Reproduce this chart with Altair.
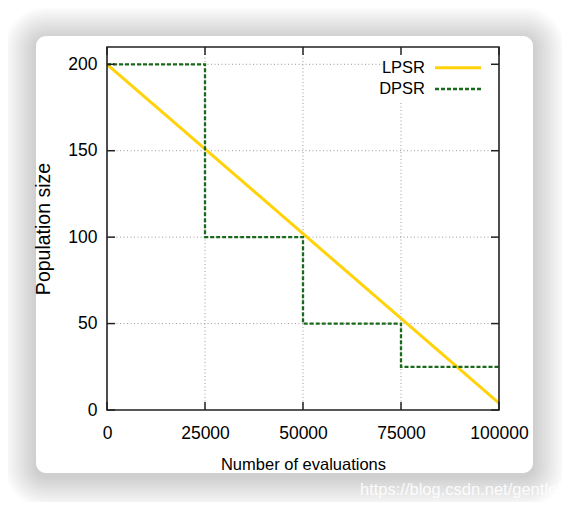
import altair as alt

import pandas as pd


# series
series_names = ["LPSR", "DPSR"]
lpsr_evals = [0, 100000]
lpsr_size = [200, 4]
dpsr_evals = [0, 25000, 50000, 75000, 100000]
dpsr_size = [200, 100, 50, 25, 25]

x_ticks = [0, 25000, 50000, 75000, 100000]
y_ticks = [0, 50, 100, 150, 200]

W = 392
H = 363
FONT = "Liberation Sans"
YELLOW = "#ffd20a"
GREEN = "#1a6a1c"

lpsr = pd.DataFrame({"ev": lpsr_evals, "val": lpsr_size})
dpsr = pd.DataFrame({"ev": dpsr_evals, "val": dpsr_size})
xt = pd.DataFrame({"ev": x_ticks})
yt = pd.DataFrame({"val": y_ticks})
xgrid = pd.DataFrame({"ev": x_ticks[1:-1]})
ygrid = pd.DataFrame({"val": y_ticks[1:]})
one = pd.DataFrame({"k": [0]})

xscale = alt.Scale(domain=[0, 100000], nice=False)
yscale = alt.Scale(domain=[0, 210], nice=False, zero=True)

xaxis = alt.Axis(values=x_ticks, format="d", title="Number of evaluations",
                 grid=False, ticks=False, domain=False, zindex=1,
                 labelFont=FONT, labelFontSize=17.5, labelColor="#000",
                 labelPadding=14, labelFlush=False,
                 titleFont=FONT, titleFontSize=16.5, titleFontWeight="normal",
                 titleColor="#000", titlePadding=15)
yaxis = alt.Axis(values=y_ticks, title="Population size",
                 grid=False, ticks=False, domain=False, zindex=1,
                 labelFont=FONT, labelFontSize=17.5, labelColor="#000",
                 labelPadding=10,
                 titleFont=FONT, titleFontSize=19.5,
                 titleFontWeight="normal", titleColor="#000", titlePadding=14)


def X():
    return alt.X("ev:Q", scale=xscale, axis=xaxis)


def Y():
    return alt.Y("val:Q", scale=yscale, axis=yaxis)


# soft shadow and white card behind the plot
layers = []
for i in range(1, 17):
    g = 2 * i
    layers.append(alt.Chart(one).mark_rect(
        color="black", opacity=0.012, cornerRadius=10 + g).encode(
        x=alt.value(-71 - g), x2=alt.value(426 + g),
        y=alt.value(-11 - g + 3), y2=alt.value(426 + g + 3)))
card = alt.Chart(one).mark_rect(color="white", cornerRadius=10).encode(
    x=alt.value(-71), x2=alt.value(426), y=alt.value(-11), y2=alt.value(426))
layers.append(card)

grid_v = alt.Chart(xgrid).mark_rule(
    color="#9a9a9a", strokeDash=[1, 2.5], strokeWidth=1).encode(x=X())
grid_h = alt.Chart(ygrid).mark_rule(
    color="#9a9a9a", strokeDash=[1, 2.5], strokeWidth=1).encode(y=Y())

line_l = alt.Chart(lpsr).mark_line(color=YELLOW, strokeWidth=3).encode(
    x=X(), y=Y())
line_d = alt.Chart(dpsr).mark_line(
    color=GREEN, strokeWidth=2.3, strokeDash=[4, 2],
    interpolate="step-after").encode(x=X(), y=Y())

# gnuplot-style key with an opaque box
key_box = alt.Chart(one).mark_rect(color="white").encode(
    x=alt.value(276), x2=alt.value(W), y=alt.value(0), y2=alt.value(55))
key_rows = [20.7, 42]
key_layers = []
for name, row in zip(series_names, key_rows):
    key_layers.append(alt.Chart(pd.DataFrame({"name": [name]})).mark_text(
        align="right", baseline="middle", font=FONT, fontSize=16.5,
        color="#000").encode(
        text="name:N", x=alt.value(318), y=alt.value(row)))
key_l = alt.Chart(one).mark_rule(color=YELLOW, strokeWidth=3).encode(
    x=alt.value(328), x2=alt.value(374), y=alt.value(key_rows[0]))
key_d = alt.Chart(one).mark_rule(
    color=GREEN, strokeWidth=2.3, strokeDash=[4, 2]).encode(
    x=alt.value(328), x2=alt.value(374), y=alt.value(key_rows[1]))

# inward ticks on all four sides
tick_b = alt.Chart(xt).mark_rule(color="#222", strokeWidth=1.5).encode(
    x=X(), y=alt.value(H), y2=alt.value(H - 8))
tick_t = alt.Chart(xt).mark_rule(color="#222", strokeWidth=1.5).encode(
    x=X(), y=alt.value(0), y2=alt.value(8))
tick_l = alt.Chart(yt).mark_rule(color="#222", strokeWidth=1.5).encode(
    y=Y(), x=alt.value(0), x2=alt.value(8))
tick_r = alt.Chart(yt).mark_rule(color="#222", strokeWidth=1.5).encode(
    y=Y(), x=alt.value(W), x2=alt.value(W - 8))

frame = alt.Chart(one).mark_rect(
    filled=False, stroke="#222", strokeWidth=1.6).encode(
    x=alt.value(0), x2=alt.value(W), y=alt.value(0), y2=alt.value(H))

mark = alt.Chart(pd.DataFrame({"t": ["https://blog.csdn.net/gentlelu"]})).mark_text(
    align="left", baseline="alphabetic", font=FONT,
    fontSize=16.5, color="white", opacity=0.9).encode(
    text="t:N", x=alt.value(253), y=alt.value(448))

layers += [grid_v, grid_h, line_l, line_d, key_box] + key_layers + [
    key_l, key_d, tick_b, tick_t, tick_l, tick_r, frame, mark]

chart = alt.layer(*layers).properties(
    width=W,
    height=H,
    padding={"left": 99, "top": 39, "right": 63, "bottom": 92},
    autosize=alt.AutoSizeParams(type="none"),
    background="white",
).configure_view(strokeWidth=0)

chart.save("out.html", embed_options={"renderer": "svg", "actions": False})
